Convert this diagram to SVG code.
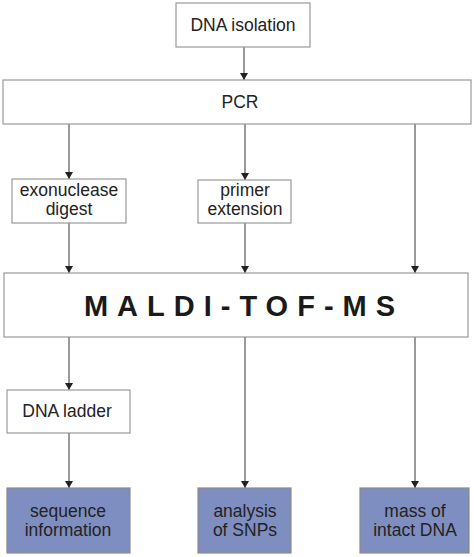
<svg xmlns="http://www.w3.org/2000/svg" width="474" height="557" viewBox="0 0 474 557">
<style>
.box{fill:#fff;stroke:#9a9a9a;stroke-width:1.2}
.res{fill:#7f8ec0;stroke:#8a8a8a;stroke-width:1.2}
.t{font-family:"Liberation Sans",Arial,sans-serif;font-size:17.5px;fill:#222;text-anchor:middle}
.big{font-family:"Liberation Sans",Arial,sans-serif;font-size:29px;font-weight:bold;fill:#1a1a1a;text-anchor:middle;letter-spacing:9px}
.c{stroke:#555;stroke-width:1.2;fill:none;marker-end:url(#ah)}
</style>
<defs>
<marker id="ah" markerWidth="8" markerHeight="8" refX="7" refY="4" orient="auto" markerUnits="userSpaceOnUse" viewBox="0 0 8 8">
<path d="M0,0 L7,4 L0,8 Z" fill="#222"/>
</marker>
</defs>
<rect width="474" height="557" fill="#fff"/>
<g id="connectors">
<line class="c" x1="244" y1="47" x2="244" y2="80"/>
<line class="c" x1="69" y1="124" x2="69" y2="179"/>
<line class="c" x1="245" y1="124" x2="245" y2="180"/>
<line class="c" x1="69" y1="223" x2="69" y2="273"/>
<line class="c" x1="245" y1="223" x2="245" y2="273"/>
<line class="c" x1="415" y1="124" x2="415" y2="273"/>
<line class="c" x1="69" y1="337" x2="69" y2="390"/>
<line class="c" x1="69" y1="433" x2="69" y2="488"/>
<line class="c" x1="245" y1="337" x2="245" y2="488"/>
<line class="c" x1="415" y1="337" x2="415" y2="488"/>
</g>
<g id="dna-isolation"><rect class="box" x="176" y="3" width="134" height="44"/><text class="t" x="243" y="31">DNA isolation</text></g>
<g id="pcr"><rect class="box" x="3" y="80" width="468" height="44"/><text class="t" x="240" y="108">PCR</text></g>
<g id="exonuclease"><rect class="box" x="12" y="179" width="114" height="44"/><text class="t" x="69" y="196">exonuclease</text><text class="t" x="69" y="215">digest</text></g>
<g id="primer"><rect class="box" x="198" y="180" width="93" height="43"/><text class="t" x="245" y="196">primer</text><text class="t" x="245" y="215">extension</text></g>
<g id="maldi"><rect class="box" x="4" y="273" width="464" height="64"/><text class="big" x="244" y="316">MALDI-TOF-MS</text></g>
<g id="ladder"><rect class="box" x="7" y="390" width="123" height="43"/><text class="t" x="67" y="417">DNA ladder</text></g>
<g id="seq"><rect class="res" x="7" y="488" width="123" height="65"/><text class="t" x="68" y="517">sequence</text><text class="t" x="68" y="536">information</text></g>
<g id="snp"><rect class="res" x="198" y="488" width="93" height="65"/><text class="t" x="245" y="517">analysis</text><text class="t" x="245" y="536">of SNPs</text></g>
<g id="mass"><rect class="res" x="360" y="488" width="109" height="65"/><text class="t" x="415" y="517">mass of</text><text class="t" x="415" y="536">intact DNA</text></g>
</svg>
